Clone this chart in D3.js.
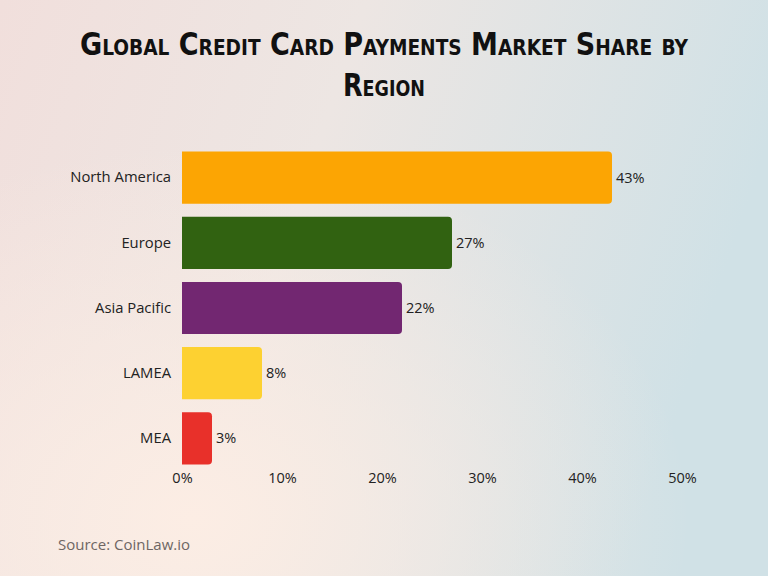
<!DOCTYPE html>
<html>
<head>
<meta charset="utf-8">
<script src="https://cdn.jsdelivr.net/npm/d3@7"></script>
<style>
  html, body { margin: 0; padding: 0; }
  body { width: 768px; height: 576px; overflow: hidden; }
</style>
</head>
<body>
<div class="box"></div>
<script>
// donnees
const regions = ['North America', 'Europe', 'Asia Pacific', 'LAMEA', 'MEA'];
const parts = [43, 27, 22, 8, 3];
const couleurs = ['#fca503', '#316211', '#722771', '#fdd131', '#e8302a'];
const ticks = [0, 10, 20, 30, 40, 50];

const dims = {width: 768, height: 576};

const svg = d3.select('.box')
              .append('svg')
              .attr('width', dims.width)
              .attr('height', dims.height);

// fond en degrade
const defs = svg.append('defs');
const lin = defs.append('linearGradient')
                .attr('id', 'fond')
                .attr('x1', '0').attr('y1', '0')
                .attr('x2', '1').attr('y2', '0.25');
lin.append('stop').attr('offset', '0%').attr('stop-color', '#f1dfdc');
lin.append('stop').attr('offset', '45%').attr('stop-color', '#ede6e3');
lin.append('stop').attr('offset', '100%').attr('stop-color', '#d0e1e6');

const rad = defs.append('radialGradient')
                .attr('id', 'chaud')
                .attr('cx', '0.25').attr('cy', '0.9')
                .attr('r', '0.65');
rad.append('stop').attr('offset', '0%').attr('stop-color', '#fcede4').attr('stop-opacity', 1);
rad.append('stop').attr('offset', '100%').attr('stop-color', '#fcede4').attr('stop-opacity', 0);

svg.append('rect').attr('width', dims.width).attr('height', dims.height).attr('fill', 'url(#fond)');
svg.append('rect').attr('width', dims.width).attr('height', dims.height).attr('fill', 'url(#chaud)');

// titre (petites capitales)
const titre = svg.append('text')
                 .attr('text-anchor', 'middle')
                 .attr('font-family', '"DejaVu Sans Condensed", sans-serif')
                 .attr('font-weight', 'bold')
                 .attr('font-size', 32)
                 .style('font-variant', 'small-caps')
                 .attr('fill', '#111');
titre.append('tspan').attr('x', 384).attr('y', 55)
     .attr('textLength', 608).attr('lengthAdjust', 'spacingAndGlyphs')
     .text('Global Credit Card Payments Market Share by');
titre.append('tspan').attr('x', 384).attr('y', 96)
     .attr('textLength', 82).attr('lengthAdjust', 'spacingAndGlyphs')
     .text('Region');

// echelles
const x = d3.scaleLinear().domain([0, 50]).range([182, 682]);
const y = d3.scaleBand().domain(regions).range([145, 471]).paddingInner(0.2).paddingOuter(0.1);

const graph = svg.append('g');
const r = 4;

// barres : coin droit arrondi seulement
graph.selectAll('path.barre')
     .data(parts)
     .enter()
     .append('path')
     .attr('class', 'barre')
     .attr('fill', (d, i) => couleurs[i])
     .attr('d', (d, i) => {
        const x0 = x(0), x1 = x(d), y0 = y(regions[i]), h = y.bandwidth();
        return `M${x0},${y0} H${x1 - r} Q${x1},${y0} ${x1},${y0 + r} V${y0 + h - r} Q${x1},${y0 + h} ${x1 - r},${y0 + h} H${x0} Z`;
     });

// valeurs
graph.selectAll('text.valeur')
     .data(parts)
     .enter()
     .append('text')
     .attr('class', 'valeur')
     .attr('x', d => x(d) + 4)
     .attr('y', (d, i) => y(regions[i]) + y.bandwidth() / 2)
     .attr('dy', '0.35em')
     .attr('font-family', '"Open Sans", sans-serif')
     .attr('font-size', 14.5)
     .attr('fill', '#222')
     .text(d => d + '%');

// axe y
const axeY = svg.append('g')
                .attr('transform', `translate(${x(0)}, 0)`)
                .call(d3.axisLeft(y).tickSize(0).tickPadding(11));
axeY.select('.domain').remove();
axeY.selectAll('text')
    .attr('font-family', '"Open Sans", sans-serif')
    .attr('font-size', 14.8)
    .attr('fill', '#222');

// axe x
const axeX = svg.append('g')
                .attr('transform', `translate(0, ${470})`)
                .call(d3.axisBottom(x).tickValues(ticks).tickSize(0).tickPadding(3).tickFormat(d => d + '%'));
axeX.select('.domain').remove();
axeX.selectAll('text')
    .attr('font-family', '"Open Sans", sans-serif')
    .attr('font-size', 14.5)
    .attr('fill', '#222');

// source
svg.append('text')
   .attr('x', 58)
   .attr('y', 550)
   .attr('font-family', '"Open Sans", sans-serif')
   .attr('font-size', 15)
   .attr('fill', '#6e6663')
   .text('Source: CoinLaw.io');
</script>
</body>
</html>
